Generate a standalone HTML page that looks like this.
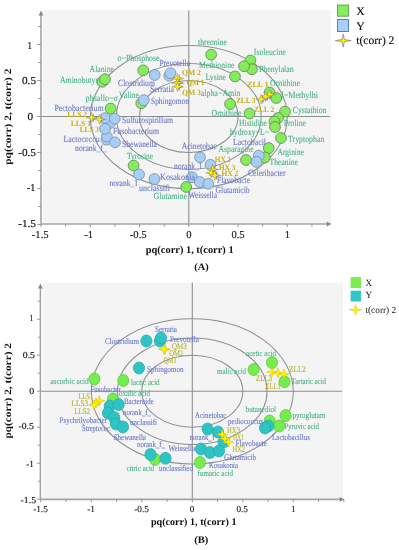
<!DOCTYPE html><html><head><meta charset="utf-8"><style>html,body{margin:0;padding:0;background:#fff;}svg{display:block;filter:blur(0.3px);}text{font-family:"Liberation Serif","Times New Roman",serif;text-rendering:geometricPrecision;}</style></head><body>
<svg width="399" height="550" viewBox="0 0 399 550">
<rect width="399" height="550" fill="#fff"/>
<rect x="42.8" y="10.3" width="288.2" height="213.7" fill="#f4f4f4"/>
<ellipse cx="188.8" cy="117.1" rx="98.50" ry="71.60" fill="none" stroke="#909090" stroke-width="1.05"/>
<ellipse cx="188.8" cy="116.5" rx="72.40" ry="52.92" fill="none" stroke="#909090" stroke-width="1.05"/>
<ellipse cx="188.8" cy="116.5" rx="49.25" ry="36.00" fill="none" stroke="#909090" stroke-width="1.05"/>
<line x1="41.2" y1="116.5" x2="330" y2="116.5" stroke="#8e8e8e" stroke-width="1.1"/>
<line x1="188.8" y1="10.5" x2="188.8" y2="224.2" stroke="#8e8e8e" stroke-width="1.1"/>
<line x1="41.0" y1="224.2" x2="41.0" y2="14" stroke="#a4a4a4" stroke-width="1.6"/>
<polygon points="38.6,15.6 43.4,15.6 41.0,10.6" fill="#888"/>
<line x1="41.0" y1="224.0" x2="328" y2="224.0" stroke="#a4a4a4" stroke-width="1.6"/>
<polygon points="326.6,221.6 326.6,226.4 331.4,224.0" fill="#888"/>
<line x1="37.2" y1="224.50" x2="41.2" y2="224.50" stroke="#8c8c8c" stroke-width="0.9"/>
<line x1="38.2" y1="206.50" x2="41.2" y2="206.50" stroke="#8c8c8c" stroke-width="0.9"/>
<line x1="37.2" y1="188.50" x2="41.2" y2="188.50" stroke="#8c8c8c" stroke-width="0.9"/>
<line x1="38.2" y1="170.50" x2="41.2" y2="170.50" stroke="#8c8c8c" stroke-width="0.9"/>
<line x1="37.2" y1="152.50" x2="41.2" y2="152.50" stroke="#8c8c8c" stroke-width="0.9"/>
<line x1="38.2" y1="134.50" x2="41.2" y2="134.50" stroke="#8c8c8c" stroke-width="0.9"/>
<line x1="37.2" y1="116.50" x2="41.2" y2="116.50" stroke="#8c8c8c" stroke-width="0.9"/>
<line x1="38.2" y1="98.50" x2="41.2" y2="98.50" stroke="#8c8c8c" stroke-width="0.9"/>
<line x1="37.2" y1="80.50" x2="41.2" y2="80.50" stroke="#8c8c8c" stroke-width="0.9"/>
<line x1="38.2" y1="62.50" x2="41.2" y2="62.50" stroke="#8c8c8c" stroke-width="0.9"/>
<line x1="37.2" y1="44.50" x2="41.2" y2="44.50" stroke="#8c8c8c" stroke-width="0.9"/>
<line x1="38.2" y1="26.50" x2="41.2" y2="26.50" stroke="#8c8c8c" stroke-width="0.9"/>
<line x1="41.05" y1="224.2" x2="41.05" y2="227.2" stroke="#8c8c8c" stroke-width="0.9"/>
<line x1="65.68" y1="224.2" x2="65.68" y2="226.7" stroke="#8c8c8c" stroke-width="0.9"/>
<line x1="90.30" y1="224.2" x2="90.30" y2="227.2" stroke="#8c8c8c" stroke-width="0.9"/>
<line x1="114.93" y1="224.2" x2="114.93" y2="226.7" stroke="#8c8c8c" stroke-width="0.9"/>
<line x1="139.55" y1="224.2" x2="139.55" y2="227.2" stroke="#8c8c8c" stroke-width="0.9"/>
<line x1="164.18" y1="224.2" x2="164.18" y2="226.7" stroke="#8c8c8c" stroke-width="0.9"/>
<line x1="188.80" y1="224.2" x2="188.80" y2="227.2" stroke="#8c8c8c" stroke-width="0.9"/>
<line x1="213.43" y1="224.2" x2="213.43" y2="226.7" stroke="#8c8c8c" stroke-width="0.9"/>
<line x1="238.05" y1="224.2" x2="238.05" y2="227.2" stroke="#8c8c8c" stroke-width="0.9"/>
<line x1="262.68" y1="224.2" x2="262.68" y2="226.7" stroke="#8c8c8c" stroke-width="0.9"/>
<line x1="287.30" y1="224.2" x2="287.30" y2="227.2" stroke="#8c8c8c" stroke-width="0.9"/>
<line x1="311.93" y1="224.2" x2="311.93" y2="226.7" stroke="#8c8c8c" stroke-width="0.9"/>
<text x="27.6" y="49.3" font-size="10.6" fill="#111" stroke="#111" stroke-width="0.18" textLength="4.4" lengthAdjust="spacingAndGlyphs">1</text>
<text x="22.0" y="84.4" font-size="10.6" fill="#111" stroke="#111" stroke-width="0.18" textLength="14.0" lengthAdjust="spacingAndGlyphs">0.5</text>
<text x="27.6" y="120.2" font-size="10.6" fill="#111" stroke="#111" stroke-width="0.18" textLength="5.6" lengthAdjust="spacingAndGlyphs">0</text>
<text x="18.2" y="156.4" font-size="10.6" fill="#111" stroke="#111" stroke-width="0.18" textLength="17.8" lengthAdjust="spacingAndGlyphs">-0.5</text>
<text x="26.8" y="190.9" font-size="10.6" fill="#111" stroke="#111" stroke-width="0.18" textLength="8.4" lengthAdjust="spacingAndGlyphs">-1</text>
<text x="18.2" y="226.6" font-size="10.6" fill="#111" stroke="#111" stroke-width="0.18" textLength="17.8" lengthAdjust="spacingAndGlyphs">-1.5</text>
<text x="31.8" y="238.3" font-size="10.6" fill="#1a1a1a" stroke="#1a1a1a" stroke-width="0.15" textLength="16.8" lengthAdjust="spacingAndGlyphs">-1.5</text>
<text x="84.2" y="238.3" font-size="10.6" fill="#1a1a1a" stroke="#1a1a1a" stroke-width="0.15" textLength="8.8" lengthAdjust="spacingAndGlyphs">-1</text>
<text x="129.8" y="238.3" font-size="10.6" fill="#1a1a1a" stroke="#1a1a1a" stroke-width="0.15" textLength="16.8" lengthAdjust="spacingAndGlyphs">-0.5</text>
<text x="186.2" y="238.3" font-size="10.6" fill="#1a1a1a" stroke="#1a1a1a" stroke-width="0.15" textLength="5.3" lengthAdjust="spacingAndGlyphs">0</text>
<text x="231.4" y="238.3" font-size="10.6" fill="#1a1a1a" stroke="#1a1a1a" stroke-width="0.15" textLength="13.2" lengthAdjust="spacingAndGlyphs">0.5</text>
<text x="284.8" y="238.3" font-size="10.6" fill="#1a1a1a" stroke="#1a1a1a" stroke-width="0.15" textLength="5.3" lengthAdjust="spacingAndGlyphs">1</text>
<text x="145.8" y="252.6" font-size="10.4" fill="#111" font-weight="bold" textLength="87.8" lengthAdjust="spacingAndGlyphs">pq(corr) 1, t(corr) 1</text>
<text x="194.2" y="270.2" font-size="10.0" fill="#111" font-weight="bold" textLength="14.4" lengthAdjust="spacingAndGlyphs">(A)</text>
<text transform="translate(10.9,116.7) rotate(-90) scale(1,0.85)" text-anchor="middle" font-size="11.4" font-weight="bold" fill="#111">pq(corr) 2, t(corr) 2</text>
<circle cx="102.5" cy="81.8" r="5.4" fill="#84ee58" stroke="#6a7a66" stroke-width="0.8"/>
<circle cx="105" cy="79.2" r="5.4" fill="#84ee58" stroke="#6a7a66" stroke-width="0.8"/>
<circle cx="143.2" cy="70.3" r="5.4" fill="#84ee58" stroke="#6a7a66" stroke-width="0.8"/>
<circle cx="110.6" cy="108.5" r="5.4" fill="#84ee58" stroke="#6a7a66" stroke-width="0.8"/>
<circle cx="141.3" cy="103.3" r="5.4" fill="#84ee58" stroke="#6a7a66" stroke-width="0.8"/>
<circle cx="211.1" cy="54.7" r="5.4" fill="#84ee58" stroke="#6a7a66" stroke-width="0.8"/>
<circle cx="250.4" cy="60.5" r="5.4" fill="#84ee58" stroke="#6a7a66" stroke-width="0.8"/>
<circle cx="251.9" cy="69.2" r="5.4" fill="#84ee58" stroke="#6a7a66" stroke-width="0.8"/>
<circle cx="244" cy="66.2" r="5.4" fill="#84ee58" stroke="#6a7a66" stroke-width="0.8"/>
<circle cx="235" cy="76.4" r="5.4" fill="#84ee58" stroke="#6a7a66" stroke-width="0.8"/>
<circle cx="269.5" cy="92.5" r="5.4" fill="#84ee58" stroke="#6a7a66" stroke-width="0.8"/>
<circle cx="276.3" cy="98" r="5.4" fill="#84ee58" stroke="#6a7a66" stroke-width="0.8"/>
<circle cx="230" cy="104" r="5.4" fill="#84ee58" stroke="#6a7a66" stroke-width="0.8"/>
<circle cx="249.5" cy="113.5" r="5.4" fill="#84ee58" stroke="#6a7a66" stroke-width="0.8"/>
<circle cx="285" cy="111.6" r="5.4" fill="#84ee58" stroke="#6a7a66" stroke-width="0.8"/>
<circle cx="278" cy="118" r="5.4" fill="#84ee58" stroke="#6a7a66" stroke-width="0.8"/>
<circle cx="274.5" cy="121.5" r="5.4" fill="#84ee58" stroke="#6a7a66" stroke-width="0.8"/>
<circle cx="275" cy="127" r="5.4" fill="#84ee58" stroke="#6a7a66" stroke-width="0.8"/>
<circle cx="281" cy="138" r="5.4" fill="#84ee58" stroke="#6a7a66" stroke-width="0.8"/>
<circle cx="268.75" cy="148.1" r="5.4" fill="#84ee58" stroke="#6a7a66" stroke-width="0.8"/>
<circle cx="264.75" cy="157.5" r="5.4" fill="#84ee58" stroke="#6a7a66" stroke-width="0.8"/>
<circle cx="246" cy="160" r="5.4" fill="#84ee58" stroke="#6a7a66" stroke-width="0.8"/>
<circle cx="133.6" cy="165.6" r="5.4" fill="#84ee58" stroke="#6a7a66" stroke-width="0.8"/>
<circle cx="186.2" cy="187" r="5.4" fill="#84ee58" stroke="#6a7a66" stroke-width="0.8"/>
<circle cx="154.75" cy="75" r="5.4" fill="#a6cef6" stroke="#7d8a9c" stroke-width="0.8"/>
<circle cx="169.3" cy="75.8" r="5.4" fill="#a6cef6" stroke="#7d8a9c" stroke-width="0.8"/>
<circle cx="170.5" cy="73.2" r="5.4" fill="#a6cef6" stroke="#7d8a9c" stroke-width="0.8"/>
<circle cx="143.8" cy="100.2" r="5.4" fill="#a6cef6" stroke="#7d8a9c" stroke-width="0.8"/>
<circle cx="110" cy="123" r="5.4" fill="#a6cef6" stroke="#7d8a9c" stroke-width="0.8"/>
<circle cx="106.5" cy="139.6" r="5.4" fill="#a6cef6" stroke="#7d8a9c" stroke-width="0.8"/>
<circle cx="106.9" cy="136.6" r="5.4" fill="#a6cef6" stroke="#7d8a9c" stroke-width="0.8"/>
<circle cx="105" cy="118.1" r="5.4" fill="#a6cef6" stroke="#7d8a9c" stroke-width="0.8"/>
<circle cx="114.75" cy="118.75" r="5.4" fill="#a6cef6" stroke="#7d8a9c" stroke-width="0.8"/>
<circle cx="105" cy="128.75" r="5.4" fill="#a6cef6" stroke="#7d8a9c" stroke-width="0.8"/>
<circle cx="115" cy="142.3" r="5.4" fill="#a6cef6" stroke="#7d8a9c" stroke-width="0.8"/>
<circle cx="139" cy="174.4" r="5.4" fill="#a6cef6" stroke="#7d8a9c" stroke-width="0.8"/>
<circle cx="154.4" cy="179" r="5.4" fill="#a6cef6" stroke="#7d8a9c" stroke-width="0.8"/>
<circle cx="200" cy="157.3" r="5.4" fill="#a6cef6" stroke="#7d8a9c" stroke-width="0.8"/>
<circle cx="210.4" cy="164.8" r="5.4" fill="#a6cef6" stroke="#7d8a9c" stroke-width="0.8"/>
<circle cx="192" cy="177.2" r="5.4" fill="#a6cef6" stroke="#7d8a9c" stroke-width="0.8"/>
<circle cx="199.8" cy="182" r="5.4" fill="#a6cef6" stroke="#7d8a9c" stroke-width="0.8"/>
<circle cx="208.4" cy="183.8" r="5.4" fill="#a6cef6" stroke="#7d8a9c" stroke-width="0.8"/>
<circle cx="258.75" cy="155.6" r="5.4" fill="#a6cef6" stroke="#7d8a9c" stroke-width="0.8"/>
<circle cx="256.5" cy="161.9" r="5.4" fill="#a6cef6" stroke="#7d8a9c" stroke-width="0.8"/>
<polygon points="179.10,74.10 180.16,77.89 185.10,78.70 180.16,79.51 179.10,83.30 178.04,79.51 173.10,78.70 178.04,77.89" fill="#8e8c9c" stroke="none" stroke-width="0" stroke-linejoin="round"/>
<polygon points="177.50,73.40 178.76,77.23 182.90,78.40 178.76,79.57 177.50,83.40 176.24,79.57 172.10,78.40 176.24,77.23" fill="#fff200" stroke="#807c70" stroke-width="0.45" stroke-linejoin="round"/>
<polygon points="179.10,78.50 180.16,82.29 185.10,83.10 180.16,83.91 179.10,87.70 178.04,83.91 173.10,83.10 178.04,82.29" fill="#8e8c9c" stroke="none" stroke-width="0" stroke-linejoin="round"/>
<polygon points="177.50,77.80 178.76,81.63 182.90,82.80 178.76,83.97 177.50,87.80 176.24,83.97 172.10,82.80 176.24,81.63" fill="#fff200" stroke="#807c70" stroke-width="0.45" stroke-linejoin="round"/>
<polygon points="179.10,82.30 180.16,86.09 185.10,86.90 180.16,87.71 179.10,91.50 178.04,87.71 173.10,86.90 178.04,86.09" fill="#8e8c9c" stroke="none" stroke-width="0" stroke-linejoin="round"/>
<polygon points="177.50,81.60 178.76,85.43 182.90,86.60 178.76,87.77 177.50,91.60 176.24,87.77 172.10,86.60 176.24,85.43" fill="#fff200" stroke="#807c70" stroke-width="0.45" stroke-linejoin="round"/>
<polygon points="271.10,90.20 272.16,93.99 277.10,94.80 272.16,95.61 271.10,99.40 270.04,95.61 265.10,94.80 270.04,93.99" fill="#8e8c9c" stroke="none" stroke-width="0" stroke-linejoin="round"/>
<polygon points="269.50,89.50 270.76,93.33 274.90,94.50 270.76,95.67 269.50,99.50 268.24,95.67 264.10,94.50 268.24,93.33" fill="#fff200" stroke="#807c70" stroke-width="0.45" stroke-linejoin="round"/>
<polygon points="267.10,92.20 268.16,95.99 273.10,96.80 268.16,97.61 267.10,101.40 266.04,97.61 261.10,96.80 266.04,95.99" fill="#8e8c9c" stroke="none" stroke-width="0" stroke-linejoin="round"/>
<polygon points="265.50,91.50 266.76,95.33 270.90,96.50 266.76,97.67 265.50,101.50 264.24,97.67 260.10,96.50 264.24,95.33" fill="#fff200" stroke="#807c70" stroke-width="0.45" stroke-linejoin="round"/>
<polygon points="262.80,94.90 263.86,98.69 268.80,99.50 263.86,100.31 262.80,104.10 261.74,100.31 256.80,99.50 261.74,98.69" fill="#8e8c9c" stroke="none" stroke-width="0" stroke-linejoin="round"/>
<polygon points="261.20,94.20 262.46,98.03 266.60,99.20 262.46,100.37 261.20,104.20 259.94,100.37 255.80,99.20 259.94,98.03" fill="#fff200" stroke="#807c70" stroke-width="0.45" stroke-linejoin="round"/>
<polygon points="93.20,113.30 94.26,117.09 99.20,117.90 94.26,118.71 93.20,122.50 92.14,118.71 87.20,117.90 92.14,117.09" fill="#8e8c9c" stroke="none" stroke-width="0" stroke-linejoin="round"/>
<polygon points="91.60,112.60 92.86,116.43 97.00,117.60 92.86,118.77 91.60,122.60 90.34,118.77 86.20,117.60 90.34,116.43" fill="#fff200" stroke="#807c70" stroke-width="0.45" stroke-linejoin="round"/>
<polygon points="101.10,115.00 102.16,118.79 107.10,119.60 102.16,120.41 101.10,124.20 100.04,120.41 95.10,119.60 100.04,118.79" fill="#8e8c9c" stroke="none" stroke-width="0" stroke-linejoin="round"/>
<polygon points="99.50,114.30 100.76,118.13 104.90,119.30 100.76,120.47 99.50,124.30 98.24,120.47 94.10,119.30 98.24,118.13" fill="#fff200" stroke="#807c70" stroke-width="0.45" stroke-linejoin="round"/>
<polygon points="214.10,165.00 215.16,168.79 220.10,169.60 215.16,170.41 214.10,174.20 213.04,170.41 208.10,169.60 213.04,168.79" fill="#8e8c9c" stroke="none" stroke-width="0" stroke-linejoin="round"/>
<polygon points="212.50,164.30 213.76,168.13 217.90,169.30 213.76,170.47 212.50,174.30 211.24,170.47 207.10,169.30 211.24,168.13" fill="#fff200" stroke="#807c70" stroke-width="0.45" stroke-linejoin="round"/>
<polygon points="212.80,168.50 213.86,172.29 218.80,173.10 213.86,173.91 212.80,177.70 211.74,173.91 206.80,173.10 211.74,172.29" fill="#8e8c9c" stroke="none" stroke-width="0" stroke-linejoin="round"/>
<polygon points="211.20,167.80 212.46,171.63 216.60,172.80 212.46,173.97 211.20,177.80 209.94,173.97 205.80,172.80 209.94,171.63" fill="#fff200" stroke="#807c70" stroke-width="0.45" stroke-linejoin="round"/>
<polygon points="216.40,171.00 217.46,174.79 222.40,175.60 217.46,176.41 216.40,180.20 215.34,176.41 210.40,175.60 215.34,174.79" fill="#8e8c9c" stroke="none" stroke-width="0" stroke-linejoin="round"/>
<polygon points="214.80,170.30 216.06,174.13 220.20,175.30 216.06,176.47 214.80,180.30 213.54,176.47 209.40,175.30 213.54,174.13" fill="#fff200" stroke="#807c70" stroke-width="0.45" stroke-linejoin="round"/>
<text x="89.6" y="72.4" font-size="9.3" fill="#48b285" stroke="#48b285" stroke-width="0.12" textLength="24.4" lengthAdjust="spacingAndGlyphs">Alanine</text>
<text x="60.0" y="82.8" font-size="9.3" fill="#48b285" stroke="#48b285" stroke-width="0.12" textLength="38.0" lengthAdjust="spacingAndGlyphs">Aminobutyr</text>
<text x="117.6" y="61.4" font-size="9.3" fill="#48b285" stroke="#48b285" stroke-width="0.12" textLength="42.0" lengthAdjust="spacingAndGlyphs">o−Phosphose</text>
<text x="85.6" y="101.1" font-size="9.3" fill="#48b285" stroke="#48b285" stroke-width="0.12" textLength="32.4" lengthAdjust="spacingAndGlyphs">phsallo−σ</text>
<text x="119.0" y="98.4" font-size="9.3" fill="#48b285" stroke="#48b285" stroke-width="0.12" textLength="20.0" lengthAdjust="spacingAndGlyphs">Valine</text>
<text x="198.0" y="44.8" font-size="9.3" fill="#48b285" stroke="#48b285" stroke-width="0.12" textLength="29.0" lengthAdjust="spacingAndGlyphs">threonine</text>
<text x="253.8" y="55.0" font-size="9.3" fill="#48b285" stroke="#48b285" stroke-width="0.12" textLength="32.0" lengthAdjust="spacingAndGlyphs">Isoleucine</text>
<text x="199.0" y="67.8" font-size="9.3" fill="#48b285" stroke="#48b285" stroke-width="0.12" textLength="35.4" lengthAdjust="spacingAndGlyphs">Methionine</text>
<text x="259.0" y="72.4" font-size="9.3" fill="#48b285" stroke="#48b285" stroke-width="0.12" textLength="34.6" lengthAdjust="spacingAndGlyphs">Phenylalan</text>
<text x="205.6" y="79.8" font-size="9.3" fill="#48b285" stroke="#48b285" stroke-width="0.12" textLength="20.4" lengthAdjust="spacingAndGlyphs">Lysine</text>
<text x="270.0" y="85.8" font-size="9.3" fill="#48b285" stroke="#48b285" stroke-width="0.12" textLength="30.0" lengthAdjust="spacingAndGlyphs">Ornithine</text>
<text x="200.7" y="96.1" font-size="9.3" fill="#48b285" stroke="#48b285" stroke-width="0.12" textLength="39.8" lengthAdjust="spacingAndGlyphs">alpha−Amin</text>
<text x="281.4" y="98.3" font-size="9.3" fill="#48b285" stroke="#48b285" stroke-width="0.12" textLength="36.6" lengthAdjust="spacingAndGlyphs">l−Methylhi</text>
<text x="211.6" y="116.2" font-size="9.3" fill="#48b285" stroke="#48b285" stroke-width="0.12" textLength="29.8" lengthAdjust="spacingAndGlyphs">Ornithine</text>
<text x="292.8" y="113.0" font-size="9.3" fill="#48b285" stroke="#48b285" stroke-width="0.12" textLength="33.7" lengthAdjust="spacingAndGlyphs">Cystathion</text>
<text x="239.0" y="125.6" font-size="9.3" fill="#48b285" stroke="#48b285" stroke-width="0.12" textLength="28.0" lengthAdjust="spacingAndGlyphs">Histidine</text>
<text x="283.7" y="126.1" font-size="9.3" fill="#48b285" stroke="#48b285" stroke-width="0.12" textLength="22.3" lengthAdjust="spacingAndGlyphs">Proline</text>
<text x="230.0" y="134.9" font-size="9.3" fill="#48b285" stroke="#48b285" stroke-width="0.12" textLength="39.0" lengthAdjust="spacingAndGlyphs">hydroxy−L−</text>
<text x="288.0" y="142.4" font-size="9.3" fill="#48b285" stroke="#48b285" stroke-width="0.12" textLength="36.4" lengthAdjust="spacingAndGlyphs">Tryptophan</text>
<text x="218.5" y="152.0" font-size="9.3" fill="#48b285" stroke="#48b285" stroke-width="0.12" textLength="35.1" lengthAdjust="spacingAndGlyphs">Asparagine</text>
<text x="277.6" y="155.2" font-size="9.3" fill="#48b285" stroke="#48b285" stroke-width="0.12" textLength="26.4" lengthAdjust="spacingAndGlyphs">Arginine</text>
<text x="269.6" y="165.2" font-size="9.3" fill="#48b285" stroke="#48b285" stroke-width="0.12" textLength="28.4" lengthAdjust="spacingAndGlyphs">Theanine</text>
<text x="127.0" y="159.2" font-size="9.3" fill="#48b285" stroke="#48b285" stroke-width="0.12" textLength="26.0" lengthAdjust="spacingAndGlyphs">Tyrosine</text>
<text x="153.6" y="199.1" font-size="9.3" fill="#48b285" stroke="#48b285" stroke-width="0.12" textLength="33.4" lengthAdjust="spacingAndGlyphs">Glutamine</text>
<text x="159.4" y="65.8" font-size="9.3" fill="#6878c8" stroke="#6878c8" stroke-width="0.12" textLength="30.6" lengthAdjust="spacingAndGlyphs">Prevotella</text>
<text x="118.0" y="86.4" font-size="9.3" fill="#6878c8" stroke="#6878c8" stroke-width="0.12" textLength="37.0" lengthAdjust="spacingAndGlyphs">Clostridium</text>
<text x="150.0" y="92.2" font-size="9.3" fill="#6878c8" stroke="#6878c8" stroke-width="0.12" textLength="24.0" lengthAdjust="spacingAndGlyphs">Serratia</text>
<text x="151.0" y="103.8" font-size="9.3" fill="#6878c8" stroke="#6878c8" stroke-width="0.12" textLength="38.0" lengthAdjust="spacingAndGlyphs">Sphingomon</text>
<text x="54.4" y="110.8" font-size="9.3" fill="#6878c8" stroke="#6878c8" stroke-width="0.12" textLength="49.2" lengthAdjust="spacingAndGlyphs">Pectobacterium</text>
<text x="122.0" y="122.8" font-size="9.3" fill="#6878c8" stroke="#6878c8" stroke-width="0.12" textLength="51.0" lengthAdjust="spacingAndGlyphs">Sulfurospirillum</text>
<text x="113.0" y="134.4" font-size="9.3" fill="#6878c8" stroke="#6878c8" stroke-width="0.12" textLength="46.0" lengthAdjust="spacingAndGlyphs">Fusobacterium</text>
<text x="63.6" y="141.8" font-size="9.3" fill="#6878c8" stroke="#6878c8" stroke-width="0.12" textLength="36.0" lengthAdjust="spacingAndGlyphs">Lactococcu</text>
<text x="122.0" y="146.8" font-size="9.3" fill="#6878c8" stroke="#6878c8" stroke-width="0.12" textLength="35.0" lengthAdjust="spacingAndGlyphs">Shewanella</text>
<text x="75.0" y="150.8" font-size="9.3" fill="#6878c8" stroke="#6878c8" stroke-width="0.12" textLength="32.0" lengthAdjust="spacingAndGlyphs">norank_f_</text>
<text x="181.7" y="148.8" font-size="9.3" fill="#6878c8" stroke="#6878c8" stroke-width="0.12" textLength="35.1" lengthAdjust="spacingAndGlyphs">Acinetobac</text>
<text x="233.0" y="145.1" font-size="9.3" fill="#6878c8" stroke="#6878c8" stroke-width="0.12" textLength="33.0" lengthAdjust="spacingAndGlyphs">Lactobacil</text>
<text x="174.0" y="169.3" font-size="9.3" fill="#6878c8" stroke="#6878c8" stroke-width="0.12" textLength="28.6" lengthAdjust="spacingAndGlyphs">norank_1</text>
<text x="160.0" y="179.7" font-size="9.3" fill="#6878c8" stroke="#6878c8" stroke-width="0.12" textLength="35.0" lengthAdjust="spacingAndGlyphs">Kosakonia</text>
<text x="109.6" y="185.8" font-size="9.3" fill="#6878c8" stroke="#6878c8" stroke-width="0.12" textLength="28.4" lengthAdjust="spacingAndGlyphs">norank_1</text>
<text x="139.0" y="191.4" font-size="9.3" fill="#6878c8" stroke="#6878c8" stroke-width="0.12" textLength="31.0" lengthAdjust="spacingAndGlyphs">unclassifi</text>
<text x="188.5" y="198.1" font-size="9.3" fill="#6878c8" stroke="#6878c8" stroke-width="0.12" textLength="28.5" lengthAdjust="spacingAndGlyphs">Weissella</text>
<text x="217.0" y="183.0" font-size="9.3" fill="#6878c8" stroke="#6878c8" stroke-width="0.12" textLength="33.0" lengthAdjust="spacingAndGlyphs">Flavobacte</text>
<text x="215.6" y="193.0" font-size="9.3" fill="#6878c8" stroke="#6878c8" stroke-width="0.12" textLength="34.0" lengthAdjust="spacingAndGlyphs">Glutamicib</text>
<text x="248.0" y="175.9" font-size="9.3" fill="#6878c8" stroke="#6878c8" stroke-width="0.12" textLength="37.5" lengthAdjust="spacingAndGlyphs">Celeribacter</text>
<text x="182.0" y="74.8" font-size="8.0" fill="#c8b00c" font-weight="bold" textLength="18.9" lengthAdjust="spacingAndGlyphs">QM 2</text>
<text x="186.4" y="84.8" font-size="8.0" fill="#c8b00c" font-weight="bold" textLength="18.1" lengthAdjust="spacingAndGlyphs">QM 1</text>
<text x="182.0" y="94.9" font-size="8.0" fill="#c8b00c" font-weight="bold" textLength="18.9" lengthAdjust="spacingAndGlyphs">QM 3</text>
<text x="247.0" y="87.0" font-size="8.0" fill="#c8b00c" font-weight="bold" textLength="21.8" lengthAdjust="spacingAndGlyphs">ZLL 1</text>
<text x="236.0" y="102.5" font-size="8.0" fill="#c8b00c" font-weight="bold" textLength="19.5" lengthAdjust="spacingAndGlyphs">ZLL 3</text>
<text x="254.0" y="111.8" font-size="8.0" fill="#c8b00c" font-weight="bold" textLength="20.4" lengthAdjust="spacingAndGlyphs">ZLL 2</text>
<text x="67.3" y="116.5" font-size="8.0" fill="#c8b00c" font-weight="bold" textLength="19.7" lengthAdjust="spacingAndGlyphs">LLS 2</text>
<text x="70.7" y="126.3" font-size="8.0" fill="#c8b00c" font-weight="bold" textLength="20.3" lengthAdjust="spacingAndGlyphs">LLS 1</text>
<text x="79.7" y="132.2" font-size="8.0" fill="#c8b00c" font-weight="bold" textLength="19.2" lengthAdjust="spacingAndGlyphs">LLS 3</text>
<text x="214.8" y="161.9" font-size="8.0" fill="#c8b00c" font-weight="bold" textLength="16.2" lengthAdjust="spacingAndGlyphs">HX 1</text>
<text x="218.8" y="169.6" font-size="8.0" fill="#c8b00c" font-weight="bold" textLength="16.7" lengthAdjust="spacingAndGlyphs">HX 3</text>
<text x="221.5" y="176.4" font-size="8.0" fill="#c8b00c" font-weight="bold" textLength="16.7" lengthAdjust="spacingAndGlyphs">HX 2</text>
<rect x="337.5" y="5" width="11" height="11.2" fill="#86ee5c" stroke="#4f9a44" stroke-width="0.8"/>
<rect x="337.5" y="19.6" width="11" height="11.8" fill="#a8cff8" stroke="#4060b0" stroke-width="0.8"/>
<polygon points="343.20,34.00 344.43,39.57 351.10,40.60 344.43,41.63 343.20,47.20 341.97,41.63 335.30,40.60 341.97,39.57" fill="#fff000" stroke="#6e6c7c" stroke-width="0.6" stroke-linejoin="round"/>
<text x="356.3" y="14.7" font-size="11.5" fill="#111" stroke="#111" stroke-width="0.15" textLength="8.5" lengthAdjust="spacingAndGlyphs">X</text>
<text x="356.3" y="29.6" font-size="11.5" fill="#111" stroke="#111" stroke-width="0.15" textLength="8.5" lengthAdjust="spacingAndGlyphs">Y</text>
<text x="356.3" y="44.0" font-size="11.5" fill="#111" stroke="#111" stroke-width="0.15" textLength="38.1" lengthAdjust="spacingAndGlyphs">t(corr) 2</text>
<rect x="42.8" y="282.6" width="300.2" height="216.8" fill="#f4f4f4"/>
<ellipse cx="192.3" cy="391.4" rx="101.00" ry="72.60" fill="none" stroke="#909090" stroke-width="1.05"/>
<ellipse cx="192.3" cy="391.2" rx="74.74" ry="53.28" fill="none" stroke="#909090" stroke-width="1.05"/>
<ellipse cx="192.3" cy="391.2" rx="50.50" ry="36.00" fill="none" stroke="#909090" stroke-width="1.05"/>
<line x1="40.4" y1="391.2" x2="342" y2="391.2" stroke="#8e8e8e" stroke-width="1.1"/>
<line x1="192.3" y1="282.5" x2="192.3" y2="499.4" stroke="#8e8e8e" stroke-width="1.1"/>
<line x1="40.4" y1="499.4" x2="40.4" y2="287" stroke="#a4a4a4" stroke-width="1.6"/>
<polygon points="38.0,288.6 42.8,288.6 40.4,283.4" fill="#888"/>
<line x1="40.4" y1="499.4" x2="341" y2="499.4" stroke="#a4a4a4" stroke-width="1.6"/>
<polygon points="339.6,497.0 339.6,501.8 344.4,499.4" fill="#888"/>
<line x1="36.9" y1="499.20" x2="40.4" y2="499.20" stroke="#8c8c8c" stroke-width="0.9"/>
<line x1="37.9" y1="481.20" x2="40.4" y2="481.20" stroke="#8c8c8c" stroke-width="0.9"/>
<line x1="36.9" y1="463.20" x2="40.4" y2="463.20" stroke="#8c8c8c" stroke-width="0.9"/>
<line x1="37.9" y1="445.20" x2="40.4" y2="445.20" stroke="#8c8c8c" stroke-width="0.9"/>
<line x1="36.9" y1="427.20" x2="40.4" y2="427.20" stroke="#8c8c8c" stroke-width="0.9"/>
<line x1="37.9" y1="409.20" x2="40.4" y2="409.20" stroke="#8c8c8c" stroke-width="0.9"/>
<line x1="36.9" y1="391.20" x2="40.4" y2="391.20" stroke="#8c8c8c" stroke-width="0.9"/>
<line x1="37.9" y1="373.20" x2="40.4" y2="373.20" stroke="#8c8c8c" stroke-width="0.9"/>
<line x1="36.9" y1="355.20" x2="40.4" y2="355.20" stroke="#8c8c8c" stroke-width="0.9"/>
<line x1="37.9" y1="337.20" x2="40.4" y2="337.20" stroke="#8c8c8c" stroke-width="0.9"/>
<line x1="36.9" y1="319.20" x2="40.4" y2="319.20" stroke="#8c8c8c" stroke-width="0.9"/>
<line x1="37.9" y1="301.20" x2="40.4" y2="301.20" stroke="#8c8c8c" stroke-width="0.9"/>
<line x1="40.80" y1="499.4" x2="40.80" y2="502.4" stroke="#8c8c8c" stroke-width="0.9"/>
<line x1="66.05" y1="499.4" x2="66.05" y2="501.9" stroke="#8c8c8c" stroke-width="0.9"/>
<line x1="91.30" y1="499.4" x2="91.30" y2="502.4" stroke="#8c8c8c" stroke-width="0.9"/>
<line x1="116.55" y1="499.4" x2="116.55" y2="501.9" stroke="#8c8c8c" stroke-width="0.9"/>
<line x1="141.80" y1="499.4" x2="141.80" y2="502.4" stroke="#8c8c8c" stroke-width="0.9"/>
<line x1="167.05" y1="499.4" x2="167.05" y2="501.9" stroke="#8c8c8c" stroke-width="0.9"/>
<line x1="192.30" y1="499.4" x2="192.30" y2="502.4" stroke="#8c8c8c" stroke-width="0.9"/>
<line x1="217.55" y1="499.4" x2="217.55" y2="501.9" stroke="#8c8c8c" stroke-width="0.9"/>
<line x1="242.80" y1="499.4" x2="242.80" y2="502.4" stroke="#8c8c8c" stroke-width="0.9"/>
<line x1="268.05" y1="499.4" x2="268.05" y2="501.9" stroke="#8c8c8c" stroke-width="0.9"/>
<line x1="293.30" y1="499.4" x2="293.30" y2="502.4" stroke="#8c8c8c" stroke-width="0.9"/>
<line x1="318.55" y1="499.4" x2="318.55" y2="501.9" stroke="#8c8c8c" stroke-width="0.9"/>
<line x1="343.80" y1="499.4" x2="343.80" y2="502.4" stroke="#8c8c8c" stroke-width="0.9"/>
<text x="29.6" y="321.1" font-size="9.2" fill="#111" stroke="#111" stroke-width="0.15" textLength="3.8" lengthAdjust="spacingAndGlyphs">1</text>
<text x="22.8" y="357.9" font-size="9.2" fill="#111" stroke="#111" stroke-width="0.15" textLength="12.2" lengthAdjust="spacingAndGlyphs">0.5</text>
<text x="29.2" y="394.1" font-size="9.2" fill="#111" stroke="#111" stroke-width="0.15" textLength="5.0" lengthAdjust="spacingAndGlyphs">0</text>
<text x="18.4" y="429.4" font-size="9.2" fill="#111" stroke="#111" stroke-width="0.15" textLength="15.4" lengthAdjust="spacingAndGlyphs">-0.5</text>
<text x="26.2" y="466.7" font-size="9.2" fill="#111" stroke="#111" stroke-width="0.15" textLength="7.6" lengthAdjust="spacingAndGlyphs">-1</text>
<text x="20.6" y="502.6" font-size="9.2" fill="#111" stroke="#111" stroke-width="0.15" textLength="15.4" lengthAdjust="spacingAndGlyphs">-1.5</text>
<text x="33.2" y="512.4" font-size="9.2" fill="#1a1a1a" stroke="#1a1a1a" stroke-width="0.15" textLength="14.6" lengthAdjust="spacingAndGlyphs">-1.5</text>
<text x="87.2" y="512.4" font-size="9.2" fill="#1a1a1a" stroke="#1a1a1a" stroke-width="0.15" textLength="7.7" lengthAdjust="spacingAndGlyphs">-1</text>
<text x="134.3" y="512.4" font-size="9.2" fill="#1a1a1a" stroke="#1a1a1a" stroke-width="0.15" textLength="14.6" lengthAdjust="spacingAndGlyphs">-0.5</text>
<text x="189.7" y="512.4" font-size="9.2" fill="#1a1a1a" stroke="#1a1a1a" stroke-width="0.15" textLength="4.6" lengthAdjust="spacingAndGlyphs">0</text>
<text x="236.4" y="512.4" font-size="9.2" fill="#1a1a1a" stroke="#1a1a1a" stroke-width="0.15" textLength="11.5" lengthAdjust="spacingAndGlyphs">0.5</text>
<text x="290.9" y="512.4" font-size="9.2" fill="#1a1a1a" stroke="#1a1a1a" stroke-width="0.15" textLength="4.6" lengthAdjust="spacingAndGlyphs">1</text>
<text x="150.9" y="524.8" font-size="10.1" fill="#111" font-weight="bold" textLength="85.6" lengthAdjust="spacingAndGlyphs">pq(corr) 1, t(corr) 1</text>
<text x="194.2" y="543.2" font-size="10.0" fill="#111" font-weight="bold" textLength="14.2" lengthAdjust="spacingAndGlyphs">(B)</text>
<text transform="translate(10.9,390.8) rotate(-90) scale(1,0.85)" text-anchor="middle" font-size="11.3" font-weight="bold" fill="#111">pq(corr) 2, t(corr) 2</text>
<ellipse cx="94.4" cy="379" rx="5.6" ry="6.0" fill="#74ee4c" stroke="#5cc040" stroke-width="0.7"/>
<ellipse cx="123.25" cy="380.5" rx="5.6" ry="6.0" fill="#74ee4c" stroke="#5cc040" stroke-width="0.7"/>
<ellipse cx="113" cy="399" rx="5.6" ry="6.0" fill="#74ee4c" stroke="#5cc040" stroke-width="0.7"/>
<ellipse cx="155" cy="459.3" rx="5.6" ry="6.0" fill="#74ee4c" stroke="#5cc040" stroke-width="0.7"/>
<ellipse cx="200" cy="462.6" rx="5.6" ry="6.0" fill="#74ee4c" stroke="#5cc040" stroke-width="0.7"/>
<ellipse cx="253.6" cy="369.6" rx="5.6" ry="6.0" fill="#74ee4c" stroke="#5cc040" stroke-width="0.7"/>
<ellipse cx="272" cy="362.6" rx="5.6" ry="6.0" fill="#74ee4c" stroke="#5cc040" stroke-width="0.7"/>
<ellipse cx="284.5" cy="381.8" rx="5.6" ry="6.0" fill="#74ee4c" stroke="#5cc040" stroke-width="0.7"/>
<ellipse cx="269.6" cy="421" rx="5.6" ry="6.0" fill="#74ee4c" stroke="#5cc040" stroke-width="0.7"/>
<ellipse cx="285.6" cy="415.6" rx="5.6" ry="6.0" fill="#74ee4c" stroke="#5cc040" stroke-width="0.7"/>
<ellipse cx="279" cy="426" rx="5.6" ry="6.0" fill="#74ee4c" stroke="#5cc040" stroke-width="0.7"/>
<ellipse cx="146.4" cy="341" rx="5.6" ry="6.0" fill="#2ec4c4" stroke="#24a8ac" stroke-width="0.7"/>
<ellipse cx="160" cy="341" rx="5.6" ry="6.0" fill="#2ec4c4" stroke="#24a8ac" stroke-width="0.7"/>
<ellipse cx="161" cy="338" rx="5.6" ry="6.0" fill="#2ec4c4" stroke="#24a8ac" stroke-width="0.7"/>
<ellipse cx="139" cy="368" rx="5.6" ry="6.0" fill="#2ec4c4" stroke="#24a8ac" stroke-width="0.7"/>
<ellipse cx="109.8" cy="406" rx="5.6" ry="6.0" fill="#2ec4c4" stroke="#24a8ac" stroke-width="0.7"/>
<ellipse cx="118.6" cy="404.6" rx="5.6" ry="6.0" fill="#2ec4c4" stroke="#24a8ac" stroke-width="0.7"/>
<ellipse cx="108" cy="413" rx="5.6" ry="6.0" fill="#2ec4c4" stroke="#24a8ac" stroke-width="0.7"/>
<ellipse cx="114.2" cy="417.5" rx="5.6" ry="6.0" fill="#2ec4c4" stroke="#24a8ac" stroke-width="0.7"/>
<ellipse cx="116" cy="424" rx="5.6" ry="6.0" fill="#2ec4c4" stroke="#24a8ac" stroke-width="0.7"/>
<ellipse cx="123" cy="427" rx="5.6" ry="6.0" fill="#2ec4c4" stroke="#24a8ac" stroke-width="0.7"/>
<ellipse cx="150.5" cy="454.5" rx="5.6" ry="6.0" fill="#2ec4c4" stroke="#24a8ac" stroke-width="0.7"/>
<ellipse cx="165.5" cy="458.3" rx="5.6" ry="6.0" fill="#2ec4c4" stroke="#24a8ac" stroke-width="0.7"/>
<ellipse cx="207.6" cy="429" rx="5.6" ry="6.0" fill="#2ec4c4" stroke="#24a8ac" stroke-width="0.7"/>
<ellipse cx="218" cy="432" rx="5.6" ry="6.0" fill="#2ec4c4" stroke="#24a8ac" stroke-width="0.7"/>
<ellipse cx="223.6" cy="442" rx="5.6" ry="6.0" fill="#2ec4c4" stroke="#24a8ac" stroke-width="0.7"/>
<ellipse cx="201" cy="449" rx="5.6" ry="6.0" fill="#2ec4c4" stroke="#24a8ac" stroke-width="0.7"/>
<ellipse cx="210" cy="452.5" rx="5.6" ry="6.0" fill="#2ec4c4" stroke="#24a8ac" stroke-width="0.7"/>
<ellipse cx="219" cy="451" rx="5.6" ry="6.0" fill="#2ec4c4" stroke="#24a8ac" stroke-width="0.7"/>
<ellipse cx="268.4" cy="426" rx="5.6" ry="6.0" fill="#2ec4c4" stroke="#24a8ac" stroke-width="0.7"/>
<ellipse cx="265" cy="428" rx="5.6" ry="6.0" fill="#2ec4c4" stroke="#24a8ac" stroke-width="0.7"/>
<polygon points="165.00,344.30 166.27,348.32 170.60,349.50 166.27,350.68 165.00,354.70 163.73,350.68 159.40,349.50 163.73,348.32" fill="#fff400" stroke="#c8b400" stroke-width="0.4" stroke-linejoin="round"/>
<polygon points="164.00,343.80 165.27,347.82 169.60,349.00 165.27,350.18 164.00,354.20 162.73,350.18 158.40,349.00 162.73,347.82" fill="#fff400" stroke="#c8b400" stroke-width="0.4" stroke-linejoin="round"/>
<polygon points="272.00,366.80 273.27,370.82 277.60,372.00 273.27,373.18 272.00,377.20 270.73,373.18 266.40,372.00 270.73,370.82" fill="#fff400" stroke="#c8b400" stroke-width="0.4" stroke-linejoin="round"/>
<polygon points="278.00,367.80 279.27,371.82 283.60,373.00 279.27,374.18 278.00,378.20 276.73,374.18 272.40,373.00 276.73,371.82" fill="#fff400" stroke="#c8b400" stroke-width="0.4" stroke-linejoin="round"/>
<polygon points="284.00,368.80 285.27,372.82 289.60,374.00 285.27,375.18 284.00,379.20 282.73,375.18 278.40,374.00 282.73,372.82" fill="#fff400" stroke="#c8b400" stroke-width="0.4" stroke-linejoin="round"/>
<polygon points="99.30,395.60 100.57,399.62 104.90,400.80 100.57,401.98 99.30,406.00 98.03,401.98 93.70,400.80 98.03,399.62" fill="#fff400" stroke="#c8b400" stroke-width="0.4" stroke-linejoin="round"/>
<polygon points="96.00,397.80 97.27,401.82 101.60,403.00 97.27,404.18 96.00,408.20 94.73,404.18 90.40,403.00 94.73,401.82" fill="#fff400" stroke="#c8b400" stroke-width="0.4" stroke-linejoin="round"/>
<polygon points="94.00,399.80 95.27,403.82 99.60,405.00 95.27,406.18 94.00,410.20 92.73,406.18 88.40,405.00 92.73,403.82" fill="#fff400" stroke="#c8b400" stroke-width="0.4" stroke-linejoin="round"/>
<polygon points="222.20,429.20 223.47,433.22 227.80,434.40 223.47,435.58 222.20,439.60 220.93,435.58 216.60,434.40 220.93,433.22" fill="#fff400" stroke="#c8b400" stroke-width="0.4" stroke-linejoin="round"/>
<polygon points="225.00,433.40 226.27,437.42 230.60,438.60 226.27,439.78 225.00,443.80 223.73,439.78 219.40,438.60 223.73,437.42" fill="#fff400" stroke="#c8b400" stroke-width="0.4" stroke-linejoin="round"/>
<polygon points="228.50,436.90 229.77,440.92 234.10,442.10 229.77,443.28 228.50,447.30 227.23,443.28 222.90,442.10 227.23,440.92" fill="#fff400" stroke="#c8b400" stroke-width="0.4" stroke-linejoin="round"/>
<text x="50.4" y="384.4" font-size="8.6" fill="#48b285" stroke="#48b285" stroke-width="0.12" textLength="38.2" lengthAdjust="spacingAndGlyphs">ascorbic acid</text>
<text x="131.0" y="384.8" font-size="8.6" fill="#48b285" stroke="#48b285" stroke-width="0.12" textLength="28.6" lengthAdjust="spacingAndGlyphs">lactic acid</text>
<text x="119.0" y="395.8" font-size="8.6" fill="#48b285" stroke="#48b285" stroke-width="0.12" textLength="31.0" lengthAdjust="spacingAndGlyphs">oxalic acid</text>
<text x="126.4" y="470.8" font-size="8.6" fill="#48b285" stroke="#48b285" stroke-width="0.12" textLength="28.0" lengthAdjust="spacingAndGlyphs">citric acid</text>
<text x="197.6" y="475.8" font-size="8.6" fill="#48b285" stroke="#48b285" stroke-width="0.12" textLength="35.4" lengthAdjust="spacingAndGlyphs">fumaric acid</text>
<text x="217.0" y="373.8" font-size="8.6" fill="#48b285" stroke="#48b285" stroke-width="0.12" textLength="29.0" lengthAdjust="spacingAndGlyphs">malic acid</text>
<text x="246.0" y="355.8" font-size="8.6" fill="#48b285" stroke="#48b285" stroke-width="0.12" textLength="30.0" lengthAdjust="spacingAndGlyphs">acetic acid</text>
<text x="291.6" y="383.8" font-size="8.6" fill="#48b285" stroke="#48b285" stroke-width="0.12" textLength="34.4" lengthAdjust="spacingAndGlyphs">Tartaric acid</text>
<text x="245.6" y="412.4" font-size="8.6" fill="#48b285" stroke="#48b285" stroke-width="0.12" textLength="30.4" lengthAdjust="spacingAndGlyphs">butanediol</text>
<text x="292.4" y="417.8" font-size="8.6" fill="#48b285" stroke="#48b285" stroke-width="0.12" textLength="33.2" lengthAdjust="spacingAndGlyphs">pyroglutam</text>
<text x="284.4" y="428.8" font-size="8.6" fill="#48b285" stroke="#48b285" stroke-width="0.12" textLength="34.6" lengthAdjust="spacingAndGlyphs">Pyruvic acid</text>
<text x="105.0" y="344.4" font-size="8.6" fill="#6878c8" stroke="#6878c8" stroke-width="0.12" textLength="34.0" lengthAdjust="spacingAndGlyphs">Clostridium</text>
<text x="155.0" y="331.8" font-size="8.6" fill="#6878c8" stroke="#6878c8" stroke-width="0.12" textLength="22.0" lengthAdjust="spacingAndGlyphs">Serratia</text>
<text x="170.0" y="341.8" font-size="8.6" fill="#6878c8" stroke="#6878c8" stroke-width="0.12" textLength="29.0" lengthAdjust="spacingAndGlyphs">Prevotella</text>
<text x="147.0" y="371.8" font-size="8.6" fill="#6878c8" stroke="#6878c8" stroke-width="0.12" textLength="36.6" lengthAdjust="spacingAndGlyphs">Sphingomon</text>
<text x="90.5" y="392.3" font-size="8.6" fill="#6878c8" stroke="#6878c8" stroke-width="0.12" textLength="30.2" lengthAdjust="spacingAndGlyphs">Fusobacter</text>
<text x="124.0" y="404.2" font-size="8.6" fill="#6878c8" stroke="#6878c8" stroke-width="0.12" textLength="29.6" lengthAdjust="spacingAndGlyphs">Bacteroide</text>
<text x="123.0" y="414.8" font-size="8.6" fill="#6878c8" stroke="#6878c8" stroke-width="0.12" textLength="28.0" lengthAdjust="spacingAndGlyphs">norank_f_</text>
<text x="130.0" y="424.8" font-size="8.6" fill="#6878c8" stroke="#6878c8" stroke-width="0.12" textLength="27.0" lengthAdjust="spacingAndGlyphs">unclassifi</text>
<text x="59.5" y="423.1" font-size="8.6" fill="#6878c8" stroke="#6878c8" stroke-width="0.12" textLength="47.4" lengthAdjust="spacingAndGlyphs">Psychrilyobacter</text>
<text x="82.0" y="431.1" font-size="8.6" fill="#6878c8" stroke="#6878c8" stroke-width="0.12" textLength="28.0" lengthAdjust="spacingAndGlyphs">Streptococ</text>
<text x="113.7" y="439.8" font-size="8.6" fill="#6878c8" stroke="#6878c8" stroke-width="0.12" textLength="32.3" lengthAdjust="spacingAndGlyphs">Shewanella</text>
<text x="137.0" y="446.8" font-size="8.6" fill="#6878c8" stroke="#6878c8" stroke-width="0.12" textLength="28.0" lengthAdjust="spacingAndGlyphs">norank_f_</text>
<text x="168.4" y="451.2" font-size="8.6" fill="#6878c8" stroke="#6878c8" stroke-width="0.12" textLength="26.6" lengthAdjust="spacingAndGlyphs">Weissella</text>
<text x="159.0" y="470.8" font-size="8.6" fill="#6878c8" stroke="#6878c8" stroke-width="0.12" textLength="34.0" lengthAdjust="spacingAndGlyphs">unclassified</text>
<text x="195.0" y="418.4" font-size="8.6" fill="#6878c8" stroke="#6878c8" stroke-width="0.12" textLength="31.4" lengthAdjust="spacingAndGlyphs">Acinetobac</text>
<text x="228.0" y="424.4" font-size="8.6" fill="#6878c8" stroke="#6878c8" stroke-width="0.12" textLength="35.0" lengthAdjust="spacingAndGlyphs">pediococcus</text>
<text x="189.6" y="440.4" font-size="8.6" fill="#6878c8" stroke="#6878c8" stroke-width="0.12" textLength="25.4" lengthAdjust="spacingAndGlyphs">norank_1</text>
<text x="235.6" y="446.4" font-size="8.6" fill="#6878c8" stroke="#6878c8" stroke-width="0.12" textLength="31.4" lengthAdjust="spacingAndGlyphs">Flavobacte</text>
<text x="224.0" y="459.8" font-size="8.6" fill="#6878c8" stroke="#6878c8" stroke-width="0.12" textLength="32.0" lengthAdjust="spacingAndGlyphs">Glutamicib</text>
<text x="209.0" y="468.0" font-size="8.6" fill="#6878c8" stroke="#6878c8" stroke-width="0.12" textLength="29.0" lengthAdjust="spacingAndGlyphs">Kosakonia</text>
<text x="272.0" y="439.9" font-size="8.6" fill="#6878c8" stroke="#6878c8" stroke-width="0.12" textLength="38.0" lengthAdjust="spacingAndGlyphs">Lactobacillus</text>
<text x="172.0" y="349.0" font-size="8.6" fill="#b4b22c" stroke="#b4b22c" stroke-width="0.12" textLength="14.8" lengthAdjust="spacingAndGlyphs">QM3</text>
<text x="169.2" y="356.0" font-size="8.6" fill="#b4b22c" stroke="#b4b22c" stroke-width="0.12" textLength="14.0" lengthAdjust="spacingAndGlyphs">QM2</text>
<text x="163.5" y="363.0" font-size="8.6" fill="#b4b22c" stroke="#b4b22c" stroke-width="0.12" textLength="13.0" lengthAdjust="spacingAndGlyphs">QM1</text>
<text x="289.0" y="371.8" font-size="8.6" fill="#b4b22c" stroke="#b4b22c" stroke-width="0.12" textLength="17.0" lengthAdjust="spacingAndGlyphs">ZLL2</text>
<text x="256.0" y="381.4" font-size="8.6" fill="#b4b22c" stroke="#b4b22c" stroke-width="0.12" textLength="16.0" lengthAdjust="spacingAndGlyphs">ZLL3</text>
<text x="265.0" y="389.4" font-size="8.6" fill="#b4b22c" stroke="#b4b22c" stroke-width="0.12" textLength="16.0" lengthAdjust="spacingAndGlyphs">ZLL1</text>
<text x="78.4" y="398.8" font-size="8.6" fill="#b4b22c" stroke="#b4b22c" stroke-width="0.12" textLength="14.6" lengthAdjust="spacingAndGlyphs">LLS1</text>
<text x="71.6" y="405.8" font-size="8.6" fill="#b4b22c" stroke="#b4b22c" stroke-width="0.12" textLength="16.4" lengthAdjust="spacingAndGlyphs">LLS3</text>
<text x="74.4" y="413.8" font-size="8.6" fill="#b4b22c" stroke="#b4b22c" stroke-width="0.12" textLength="15.6" lengthAdjust="spacingAndGlyphs">LLS2</text>
<text x="227.0" y="432.8" font-size="8.6" fill="#b4b22c" stroke="#b4b22c" stroke-width="0.12" textLength="13.0" lengthAdjust="spacingAndGlyphs">HX3</text>
<text x="233.0" y="439.8" font-size="8.6" fill="#b4b22c" stroke="#b4b22c" stroke-width="0.12" textLength="11.0" lengthAdjust="spacingAndGlyphs">HX1</text>
<text x="232.4" y="452.4" font-size="8.6" fill="#b4b22c" stroke="#b4b22c" stroke-width="0.12" textLength="12.6" lengthAdjust="spacingAndGlyphs">HX2</text>
<rect x="350.6" y="277.1" width="10.5" height="11" fill="#78ee50"/>
<rect x="350.6" y="290.7" width="10.5" height="10.8" fill="#34c6c6"/>
<polygon points="355.60,304.60 356.92,308.70 361.80,309.80 356.92,310.90 355.60,315.00 354.28,310.90 349.40,309.80 354.28,308.70" fill="#fff400" stroke="#c8b400" stroke-width="0.4" stroke-linejoin="round"/>
<text x="365.4" y="285.5" font-size="9.4" fill="#111" textLength="6.6" lengthAdjust="spacingAndGlyphs">X</text>
<text x="365.4" y="298.4" font-size="9.4" fill="#111" textLength="6.6" lengthAdjust="spacingAndGlyphs">Y</text>
<text x="365.4" y="312.6" font-size="9.4" fill="#111" textLength="30.8" lengthAdjust="spacingAndGlyphs">t(corr) 2</text>
</svg></body></html>
